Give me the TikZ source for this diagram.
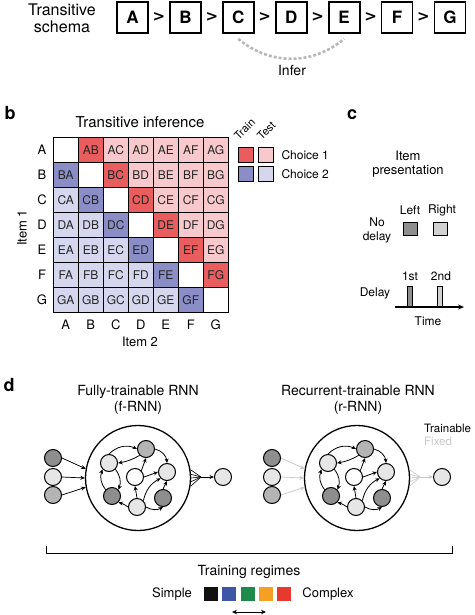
\documentclass[tikz,border=0pt]{standalone}
\usepackage{fontspec}
\setmainfont{TeX Gyre Heros}
\newfontfamily\gtfont{DejaVu Sans}
\usetikzlibrary{arrows.meta,calc}
\definecolor{trainR}{HTML}{E95D5F}
\definecolor{testR}{HTML}{F8C9CC}
\definecolor{trainB}{HTML}{8A8DC6}
\definecolor{testB}{HTML}{D5D7EE}
\definecolor{gdark}{HTML}{8E8E8E}
\definecolor{gmid}{HTML}{B4B4B4}
\definecolor{glight}{HTML}{E6E6E6}
\definecolor{fixedc}{HTML}{C8C8C8}
\definecolor{inferc}{HTML}{B8B8B8}
\definecolor{rgBlack}{HTML}{111111}
\definecolor{rgBlue}{HTML}{3F55A5}
\definecolor{rgGreen}{HTML}{1E8B4A}
\definecolor{rgOrange}{HTML}{F5A023}
\definecolor{rgRed}{HTML}{E8392E}
\tikzset{
  fs/.style={font=\fontsize{#1}{#1}\selectfont},
  fsb/.style={font=\fontsize{#1}{#1}\selectfont\bfseries},
  lbox/.style={draw, line width=1.8pt, minimum size=31pt, inner sep=0pt, font=\fontsize{17}{17}\selectfont\bfseries},
  gt/.style={font=\fontsize{15}{15}\selectfont\gtfont\bfseries, inner sep=0pt},
  cell/.style={draw, line width=1.2pt, minimum size=25pt, inner sep=0pt, text=black!85, font=\fontsize{12}{12}\selectfont},
  lsq/.style={draw, line width=1pt, minimum width=15pt, minimum height=15pt, inner sep=0pt},
  csq/.style={draw, line width=1pt, minimum width=14pt, minimum height=13pt, inner sep=0pt},
  rsq/.style={minimum width=14pt, minimum height=14pt, inner sep=0pt},
  neu/.style={circle, draw, line width=1pt, minimum size=17pt, inner sep=0pt},
  bigc/.style={circle, draw, line width=1.3pt, minimum size=105pt, inner sep=0pt},
  arr/.style={-{Stealth[length=4.5pt,width=4pt]}, line width=0.8pt},
  ioarr/.style={-{Stealth[length=4.5pt,width=4pt]}, line width=0.7pt},
  fan/.style={line width=0.6pt},
  infer/.style={draw=inferc, line width=2.6pt, dash pattern=on 3pt off 2pt},
}
\newcommand\rnnnet[3]{%
 \begin{scope}[shift={(#2,478)}]
  \node[bigc] (#1C) at (0,0) {};
  \node[neu, fill=glight] (#1n1) at (-29,-15) {};
  \node[neu, fill=gmid] (#1n2) at (8,-29) {};
  \node[neu, fill=white] (#1n3) at (-3,-1) {};
  \node[neu, fill=glight] (#1n4) at (29,-6) {};
  \node[neu, fill=gdark] (#1n5) at (-26,18) {};
  \node[neu, fill=glight] (#1n6) at (-1,29) {};
  \node[neu, fill=gdark] (#1n7) at (25,20) {};
  \draw[arr] (#1n1.north) to[bend left=35] (#1n2.west);
  \draw[arr] (#1n2.south west) to[bend left=10] (#1n1.east);
  \draw[arr] (#1n2.east) to[bend left=35] (#1n4.north);
  \draw[arr] (#1n3.north east) to (#1n2.south);
  \draw[arr] (#1n3.east) to (#1n4.west);
  \draw[arr] (#1n5.north west) to[bend left=30] (#1n1.south west);
  \draw[arr] (#1n1.south east) to[bend left=30] (#1n5.north east);
  \draw[arr] (#1n6.north) to (#1n3.south);
  \draw[arr] (#1n6.west) to[bend right=10] (#1n5.south east);
  \draw[arr] (#1n6.east) to[bend right=30] (#1n7.south);
  \draw[arr] (#1n6.north east) to[bend left=25] (#1n4.south west);
  \draw[arr] (#1n7.north) to (#1n4.south);
  \node[neu, fill=gdark] (#1i1) at (-85,-20) {};
  \node[neu, fill=glight] (#1i2) at (-85,-1) {};
  \node[neu, fill=gmid] (#1i3) at (-85,17) {};
  \node[neu, fill=glight] (#1o) at (85,-1) {};
  \coordinate (#1F) at (63,-1);
  \draw[ioarr, draw=#3, fill=#3] (#1i1.east) -- (#1C.170);
  \draw[ioarr, draw=#3, fill=#3] (#1i2.east) -- (#1C.180);
  \draw[ioarr, draw=#3, fill=#3] (#1i3.east) -- (#1C.190);
  \foreach \a in {9,4.5,0,-4.5,-9} { \draw[fan, draw=#3] (#1C.\a) -- (#1F); }
  \draw[ioarr, draw=#3, fill=#3] (#1F) -- (#1o.west);
 \end{scope}}
\begin{document}
\begin{tikzpicture}[x=1pt, y=-1pt]
\useasboundingbox (0,0) rectangle (474,615);
% ---------- panel a
\node[align=center, font=\fontsize{16}{17}\selectfont] (ts) at (62,18) {Transitive\\schema};
\foreach \L [count=\k from 0] in {A,B,C,D,E,F,G} {
  \node[lbox] (b\L) at (132.5+52.9*\k,17.5) {\L};
}
\foreach \L [count=\k from 0] in {A,B,C,D,E,F} {
  \node[gt] (g\L) at (158.95+52.9*\k,17.5) {>};
}
\draw[infer] ([yshift=-5pt]bC.south) to[bend right=40] ([yshift=-5pt]bE.south);
\node[fs=14] (infer) at (292,70) {Infer};
% ---------- panel b
\node[fsb=18] (lb) at (10,113) {b};
\node[fs=15] (tit) at (140,122) {Transitive inference};
\foreach \rl [count=\i] in {A,B,C,D,E,F,G} {
  \node[fs=13] (r\rl) at (42,125.2+25*\i) {\rl};
  \node[fs=13] (c\rl) at (40.8+25*\i,325) {\rl};
  \foreach \cl [count=\j] in {A,B,C,D,E,F,G} {
    \pgfmathtruncatemacro\dd{\j-\i}
    \ifnum\dd=0 \def\cf{white}\else
      \ifnum\dd=1 \def\cf{trainR}\else
        \ifnum\dd>1 \def\cf{testR}\else
          \ifnum\dd=-1 \def\cf{trainB}\else \def\cf{testB}\fi\fi\fi\fi
    \node[cell, fill=\cf] (m\rl\cl) at (40.8+25*\j,125.2+25*\i) {\ifnum\dd=0 \else\rl\cl\fi};
  }
}
\node[fs=13] (it2) at (140,342) {Item 2};
\node[fs=13, rotate=90] (it1) at (22,228) {Item 1};
% legend
\node[fs=11, rotate=45, anchor=south west, inner sep=0pt] (ltr) at (239,141) {Train};
\node[fs=11, rotate=45, anchor=south west, inner sep=0pt] (lte) at (262,141) {Test};
\node[lsq, fill=trainR] (l1a) at (246,155) {};
\node[lsq, fill=testR] (l1b) at (266,155) {};
\node[lsq, fill=trainB] (l2a) at (246,174) {};
\node[lsq, fill=testB] (l2b) at (266,174) {};
\node[fs=12, anchor=west] (ch1) at (278,155) {Choice 1};
\node[fs=12, anchor=west] (ch2) at (278,174) {Choice 2};
% ---------- panel c
\node[fsb=18] (lc) at (352,115) {c};
\node[align=center, font=\fontsize{13}{14}\selectfont] (ip) at (408,164) {Item\\presentation};
\node[fs=12] (lft) at (410,210) {Left};
\node[fs=12] (rgt) at (442,210) {Right};
\node[align=center, font=\fontsize{12}{14}\selectfont] (nd) at (377,230) {No\\delay};
\node[csq, fill=gdark] (sqL) at (410,228.5) {};
\node[csq, fill=black!18] (sqR) at (440,228.5) {};
\node[fs=12] (fst) at (410,276) {1st};
\node[fs=12] (snd) at (441,276) {2nd};
\node[fs=12] (dl) at (375,293) {Delay};
\coordinate (ax0) at (395,307);
\coordinate (ax1) at (464,307);
\draw[line width=0.8pt, fill=gdark] (407,286) rectangle (412.5,307);
\draw[line width=0.8pt, fill=black!18] (437,286) rectangle (442.5,307);
\draw[-{Stealth[length=6pt,width=5pt]}, line width=1.1pt] (ax0) -- (ax1);
\node[fs=12] (tm) at (428,321) {Time};
% ---------- panel d
\node[fsb=18] (ld) at (9,385) {d};
\node[align=center, font=\fontsize{14}{16}\selectfont] (t1) at (138,400) {Fully-trainable RNN\\(f-RNN)};
\node[align=center, font=\fontsize{14}{16}\selectfont] (t2) at (358,400) {Recurrent-trainable RNN\\(r-RNN)};
\rnnnet{f}{138}{black}
\rnnnet{r}{357}{fixedc}
\node[fs=11.5, anchor=west, inner sep=0pt] (trn) at (424,428) {Trainable};
\node[fs=11.5, anchor=west, inner sep=0pt, text=fixedc] (fxd) at (424,441) {Fixed};
% bracket
\coordinate (br0) at (46,546);
\coordinate (br1) at (46,553);
\coordinate (br2) at (452,553);
\coordinate (br3) at (452,546);
\draw[line width=0.9pt] (br0) -- (br1) -- (br2) -- (br3);
\node[fs=14] (tr) at (249,572) {Training regimes};
\node[fs=13] (smp) at (172,594) {Simple};
\node[rsq, fill=rgBlack] (s1) at (211,593.5) {};
\node[rsq, fill=rgBlue] (s2) at (229,593.5) {};
\node[rsq, fill=rgGreen] (s3) at (247.5,593.5) {};
\node[rsq, fill=rgOrange] (s4) at (265.5,593.5) {};
\node[rsq, fill=rgRed] (s5) at (283.5,593.5) {};
\node[fs=13] (cpx) at (328,594) {Complex};
\coordinate (da0) at (232,612);
\coordinate (da1) at (266,612);
\draw[{Stealth[length=5pt,width=4.5pt]}-{Stealth[length=5pt,width=4.5pt]}, line width=1pt] (da0) -- (da1);
\end{tikzpicture}
\end{document}
